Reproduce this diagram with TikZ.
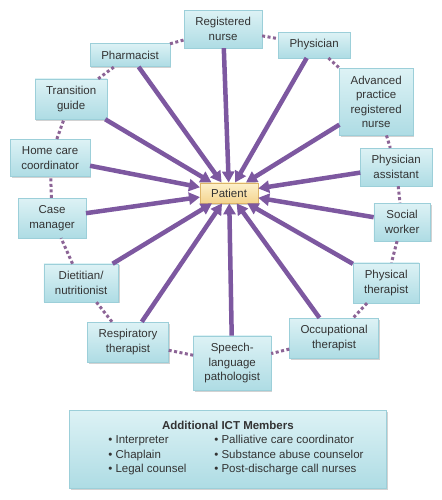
\documentclass[tikz,border=0pt]{standalone}
\usepackage{fontspec}
\setmainfont{Liberation Sans}
\usepackage{tikz}
\usetikzlibrary{arrows.meta, shadows}

\definecolor{boxtop}{HTML}{DDF2F5}
\definecolor{boxbot}{HTML}{AEDCE4}
\definecolor{boxline}{HTML}{9CCFD9}
\definecolor{pattop}{HTML}{FDF1CC}
\definecolor{patbot}{HTML}{F4D48F}
\definecolor{patline}{HTML}{DDB468}
\definecolor{arrowpurple}{HTML}{7D58A0}
\definecolor{dotpurple}{HTML}{8C6496}

\begin{document}
\begin{tikzpicture}[
    box/.style={rectangle, draw=boxline, top color=boxtop, bottom color=boxbot, align=center, font=\fontsize{11.5}{14.4}\selectfont, text=black!80, inner xsep=11pt, inner ysep=7.5pt, drop shadow={shadow xshift=1.2pt, shadow yshift=-1.5pt, fill=black!35, opacity=0.5}},
    patient/.style={box, draw=patline, top color=pattop, bottom color=patbot, inner ysep=6pt},
    arrow/.style={-{Triangle[length=11pt, width=12pt]}, line width=4.5pt, arrowpurple},
    link/.style={dotpurple, line width=3pt, dash pattern=on 3pt off 2.5pt},
]
\useasboundingbox (-8.05,6.78) rectangle (7.45,-10.79);

% Nodes
\node[patient] (patient) at (0,0) {Patient};
\node[box] (nurse) at (-0.21,5.76) {Registered\\nurse};
\node[box] (physician) at (2.99,5.20) {Physician};
\node[box] (apn) at (5.17,3.20) {Advanced\\practice\\registered\\nurse};
\node[box] (assistant) at (5.87,0.91) {Physician\\assistant};
\node[box] (social) at (6.08,-1.02) {Social\\worker};
\node[box] (physther) at (5.52,-3.16) {Physical\\therapist};
\node[box] (occther) at (3.69,-5.10) {Occupational\\therapist};
\node[box] (speech) at (0.11,-5.98) {Speech-\\language\\pathologist};
\node[box] (resp) at (-3.55,-5.24) {Respiratory\\therapist};
\node[box] (diet) at (-5.20,-3.16) {Dietitian/\\nutritionist};
\node[box] (casemgr) at (-6.22,-0.88) {Case\\manager};
\node[box] (homecare) at (-6.29,1.23) {Home care\\coordinator};
\node[box] (transition) at (-5.55,3.30) {Transition\\guide};
\node[box] (pharmacist) at (-3.48,4.85) {Pharmacist};

% Additional members
\node[box, minimum width=11.14cm, minimum height=2.74cm] (extra) at (-0.04,-9.00) {\textbf{Additional ICT Members}\\
    \hspace{16pt}\begin{tabular}[t]{@{}p{106pt}@{}l@{}}
    • Interpreter & • Palliative care coordinator\\
    • Chaplain & • Substance abuse counselor\\
    • Legal counsel & • Post-discharge call nurses
    \end{tabular}};

% Dotted ring
\draw[link] (nurse) -- (physician);
\draw[link] (physician) -- (apn);
\draw[link] (apn) -- (assistant);
\draw[link] (assistant) -- (social);
\draw[link] (social) -- (physther);
\draw[link] (physther) -- (occther);
\draw[link] (occther) -- (speech);
\draw[link] (speech) -- (resp);
\draw[link] (resp) -- (diet);
\draw[link] (diet) -- (casemgr);
\draw[link] (casemgr) -- (homecare);
\draw[link] (homecare) -- (transition);
\draw[link] (transition) -- (pharmacist);
\draw[link] (pharmacist) -- (nurse);

% Arrows
\draw[arrow] (nurse) -- (patient);
\draw[arrow] (physician) -- (patient);
\draw[arrow] (apn) -- (patient);
\draw[arrow] (assistant) -- (patient);
\draw[arrow] (social) -- (patient);
\draw[arrow] (physther) -- (patient);
\draw[arrow] (occther) -- (patient);
\draw[arrow] (speech) -- (patient);
\draw[arrow] (resp) -- (patient);
\draw[arrow] (diet) -- (patient);
\draw[arrow] (casemgr) -- (patient);
\draw[arrow] (homecare) -- (patient);
\draw[arrow] (transition) -- (patient);
\draw[arrow] (pharmacist) -- (patient);

\end{tikzpicture}
\end{document}
